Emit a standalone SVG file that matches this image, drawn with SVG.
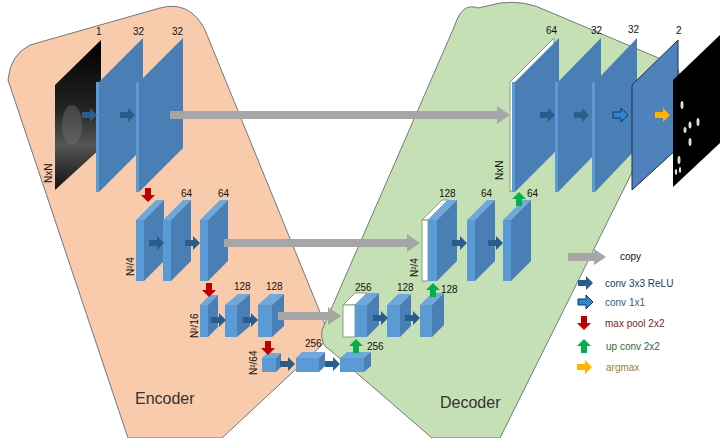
<svg xmlns="http://www.w3.org/2000/svg" xmlns:xlink="http://www.w3.org/1999/xlink" width="720" height="438" viewBox="0 0 720 438">
<defs>
<style>
.fr{fill:#5b9bd5}.tp{fill:#6fa8dc}.sd{fill:#4a7fb5}
.ol{fill:#fff;stroke:#8aa07a;stroke-width:1}
.lb{font-family:"Liberation Sans",Arial,sans-serif;font-size:10px;fill:#111}
.big{font-family:"Liberation Sans",Arial,sans-serif;font-size:16px;fill:#333}
.dk{fill:#2a5d8a}.bl{fill:#2e86d1;stroke:#13395e;stroke-width:1}.rd{fill:#c00000}.gr{fill:#00b050}.ye{fill:#ffb400}
.cp{stroke:#a6a6a6;stroke-width:8}
</style>
<path id="aR" d="M0,-3 H8 V-7 L15,0 L8,7 V3 H0 Z"/>
<path id="aD" d="M-3,0 H3 V7 H7 L0,14 L-7,7 H-3 Z"/>
<path id="aU" d="M-3,14 H3 V7 H7 L0,0 L-7,7 H-3 Z"/>
<linearGradient id="img" x1="0" y1="0" x2="0" y2="1"><stop offset="0" stop-color="#000"/><stop offset="0.45" stop-color="#222"/><stop offset="0.7" stop-color="#555"/><stop offset="1" stop-color="#111"/></linearGradient>
</defs>
<rect width="720" height="438" fill="#fff"/>
<g id="encoder-region">
<path d="M30,45 Q10,55 8,80 L128,438 L222,438 L322,345 Q330,335 324,322 L205,30 Q190,0 160,8 Z" fill="#f8cbad" stroke="#777" stroke-width="1"/>
<text class="big" x="135" y="404">Encoder</text>
</g>
<g id="decoder-region">
<path d="M478,8 Q462,2 455,25 L322,330 Q320,345 330,350 L432,438 L500,438 L678,80 Q683,68 668,62 L545,10 Q525,0 500,3 Z" fill="#c5e0b4" stroke="#777" stroke-width="1"/>
<text class="big" x="440" y="408">Decoder</text>
</g>
<g id="input">
<polygon points="55,85 101,40 101,148 55,190" fill="url(#img)"/>
<ellipse cx="72" cy="125" rx="10" ry="20" fill="#777" opacity="0.4"/>
<text class="lb" x="96" y="35">1</text>
<text class="lb" transform="translate(52,183) rotate(-90)">NxN</text>
</g>
<g id="enc1">
<polygon class="sd" points="99,82 143,38 143,148 99,192"/><rect class="fr" x="96" y="82" width="3" height="110"/>
<polygon class="sd" points="139,82 183,38 183,148 139,192"/><rect class="fr" x="136" y="82" width="3" height="110"/>
<text class="lb" x="133" y="35">32</text><text class="lb" x="172" y="35">32</text>
</g>
<g id="enc2">
<polygon class="tp" points="136,220 144,220 164,200 156,200"/><polygon class="sd" points="144,220 164,200 164,261 144,281"/><rect class="fr" x="136" y="220" width="8" height="61"/>
<polygon class="tp" points="163,220 171,220 191,200 183,200"/><polygon class="sd" points="171,220 191,200 191,261 171,281"/><rect class="fr" x="163" y="220" width="8" height="61"/>
<polygon class="tp" points="200,220 208,220 228,200 220,200"/><polygon class="sd" points="208,220 228,200 228,261 208,281"/><rect class="fr" x="200" y="220" width="8" height="61"/>
<text class="lb" x="181" y="197">64</text><text class="lb" x="218" y="197">64</text>
<text class="lb" transform="translate(134,276) rotate(-90)">N²/4</text>
</g>
<g id="enc3">
<polygon class="tp" points="200,305 208,305 218,295 210,295"/><polygon class="sd" points="208,305 218,295 218,327 208,337"/><rect class="fr" x="200" y="305" width="8" height="32"/>
<polygon class="tp" points="225,305 237,305 250,294 238,294"/><polygon class="sd" points="237,305 250,294 250,326 237,337"/><rect class="fr" x="225" y="305" width="12" height="32"/>
<polygon class="tp" points="258,305 272,305 284,294 270,294"/><polygon class="sd" points="272,305 284,294 284,326 272,337"/><rect class="fr" x="258" y="305" width="14" height="32"/>
<text class="lb" x="234" y="290">128</text><text class="lb" x="266" y="290">128</text>
<text class="lb" transform="translate(198,338) rotate(-90)">N²/16</text>
</g>
<g id="bottom">
<polygon class="tp" points="262,358 276,358 281,353 267,353"/><polygon class="sd" points="276,358 281,353 281,367 276,372"/><rect class="fr" x="262" y="358" width="14" height="14"/>
<polygon class="tp" points="296,358 319,358 325,352 302,352"/><polygon class="sd" points="319,358 325,352 325,366 319,372"/><rect class="fr" x="296" y="358" width="23" height="14"/>
<polygon class="tp" points="340,358 364,358 371,352 347,352"/><polygon class="sd" points="364,358 371,352 371,366 364,372"/><rect class="fr" x="340" y="358" width="24" height="14"/>
<text class="lb" x="305" y="347">256</text><text class="lb" x="367" y="350">256</text>
<text class="lb" transform="translate(257,375) rotate(-90)">N²/64</text>
</g>
<g id="dec3">
<polygon class="ol" points="343,305 355,305 367,293 355,293"/><rect class="ol" x="343" y="305" width="12" height="32"/>
<polygon class="tp" points="355,305 367,305 379,293 367,293"/><polygon class="sd" points="367,305 379,293 379,325 367,337"/><rect class="fr" x="355" y="305" width="12" height="32"/>
<polygon class="tp" points="387,305 400,305 411,294 398,294"/><polygon class="sd" points="400,305 411,294 411,326 400,337"/><rect class="fr" x="387" y="305" width="13" height="32"/>
<polygon class="tp" points="420,305 432,305 444,293 432,293"/><polygon class="sd" points="432,305 444,293 444,325 432,337"/><rect class="fr" x="420" y="305" width="12" height="32"/>
<text class="lb" x="355" y="291">256</text><text class="lb" x="397" y="291">128</text><text class="lb" x="441" y="293">128</text>
</g>
<g id="dec2">
<polygon class="ol" points="422,220 428,220 448,200 442,200"/><rect class="ol" x="422" y="220" width="6" height="61"/>
<polygon class="tp" points="428,220 437,220 457,200 448,200"/><polygon class="sd" points="437,220 457,200 457,261 437,281"/><rect class="fr" x="428" y="220" width="9" height="61"/>
<polygon class="tp" points="467,220 475,220 495,200 487,200"/><polygon class="sd" points="475,220 495,200 495,261 475,281"/><rect class="fr" x="467" y="220" width="8" height="61"/>
<polygon class="tp" points="503,220 511,220 531,200 523,200"/><polygon class="sd" points="511,220 531,200 531,261 511,281"/><rect class="fr" x="503" y="220" width="8" height="61"/>
<text class="lb" x="439" y="197">128</text><text class="lb" x="481" y="197">64</text><text class="lb" x="527" y="197">64</text>
<text class="lb" transform="translate(418,277) rotate(-90)">N²/4</text>
</g>
<g id="dec1">
<polygon class="ol" points="510,82 554,38 554,148 510,192"/>
<polygon class="sd" points="515,82 559,38 559,148 515,192"/><rect class="fr" x="512" y="82" width="3" height="110"/>
<polygon class="sd" points="558,82 601,38 601,148 558,192"/><rect class="fr" x="555" y="82" width="3" height="110"/>
<polygon class="sd" points="595,82 637,38 637,148 595,192"/><rect class="fr" x="592" y="82" width="3" height="110"/>
<polygon points="632,85 678,40 678,148 632,190" fill="#4f81bd" stroke="#1b2f46" stroke-width="1"/>
<polygon points="673,80 720,35 720,143 673,187" fill="#000"/>
<g fill="#ddd"><ellipse cx="682" cy="105" rx="1.5" ry="4"/><ellipse cx="690" cy="125" rx="1.5" ry="3.5"/><ellipse cx="698" cy="122" rx="1.5" ry="4"/><ellipse cx="685" cy="130" rx="1.5" ry="3"/><ellipse cx="690" cy="142" rx="1.5" ry="4"/><ellipse cx="679" cy="160" rx="1.5" ry="4"/><ellipse cx="676" cy="172" rx="1.2" ry="3"/><ellipse cx="680" cy="170" rx="1.2" ry="3"/></g>
<text class="lb" x="546" y="34">64</text><text class="lb" x="591" y="34">32</text><text class="lb" x="628" y="33">32</text><text class="lb" x="676" y="34">2</text>
<text class="lb" transform="translate(503,180) rotate(-90)">NxN</text>
</g>
<g id="connectors">
<line class="cp" x1="170" y1="115" x2="498" y2="115"/><polygon points="497,106 510,115 497,124" fill="#a6a6a6"/>
<line class="cp" x1="224" y1="243" x2="408" y2="243"/><polygon points="407,234 420,243 407,252" fill="#a6a6a6"/>
<line class="cp" x1="278" y1="316" x2="329" y2="316"/><polygon points="328,307 341,316 328,325" fill="#a6a6a6"/>
<use xlink:href="#aR" class="dk" x="82" y="115"/><use xlink:href="#aR" class="dk" x="120" y="115"/>
<use xlink:href="#aR" class="dk" x="540" y="115"/><use xlink:href="#aR" class="dk" x="574" y="115"/>
<use xlink:href="#aR" class="bl" x="613" y="115"/><use xlink:href="#aR" class="ye" x="655" y="115"/>
<use xlink:href="#aR" class="dk" x="149" y="243"/><use xlink:href="#aR" class="dk" x="185" y="243"/>
<use xlink:href="#aR" class="dk" x="452" y="243"/><use xlink:href="#aR" class="dk" x="488" y="243"/>
<use xlink:href="#aR" class="dk" x="211" y="320"/><use xlink:href="#aR" class="dk" x="243" y="320"/>
<use xlink:href="#aR" class="dk" x="373" y="318"/><use xlink:href="#aR" class="dk" x="405" y="318"/>
<use xlink:href="#aR" class="dk" x="280" y="364"/><use xlink:href="#aR" class="dk" x="325" y="364"/>
<use xlink:href="#aD" class="rd" x="148" y="188"/><use xlink:href="#aD" class="rd" x="209" y="283"/><use xlink:href="#aD" class="rd" x="268" y="341"/>
<use xlink:href="#aU" class="gr" x="356" y="339"/><use xlink:href="#aU" class="gr" x="433" y="283"/><use xlink:href="#aU" class="gr" x="519" y="192"/>
</g>
<g id="legend">
<line class="cp" x1="568" y1="257" x2="595" y2="257"/><polygon points="594,249 606,257 594,265" fill="#a6a6a6"/>
<text class="lb" x="620" y="260">copy</text>
<use xlink:href="#aR" class="dk" x="578" y="283"/><text class="lb" x="605" y="287" fill="#1f3b5c" style="fill:#1f3b5c">conv 3x3 ReLU</text>
<use xlink:href="#aR" class="bl" x="578" y="302"/><text class="lb" x="605" y="306" style="fill:#2e5f8a">conv 1x1</text>
<use xlink:href="#aD" class="rd" x="584" y="316"/><text class="lb" x="605" y="327" style="fill:#7a1f1f">max pool 2x2</text>
<use xlink:href="#aU" class="gr" x="584" y="339"/><text class="lb" x="606" y="350" style="fill:#2e6b3a">up conv 2x2</text>
<use xlink:href="#aR" class="ye" x="577" y="367"/><text class="lb" x="606" y="371" style="fill:#9a8040">argmax</text>
</g>
</svg>
